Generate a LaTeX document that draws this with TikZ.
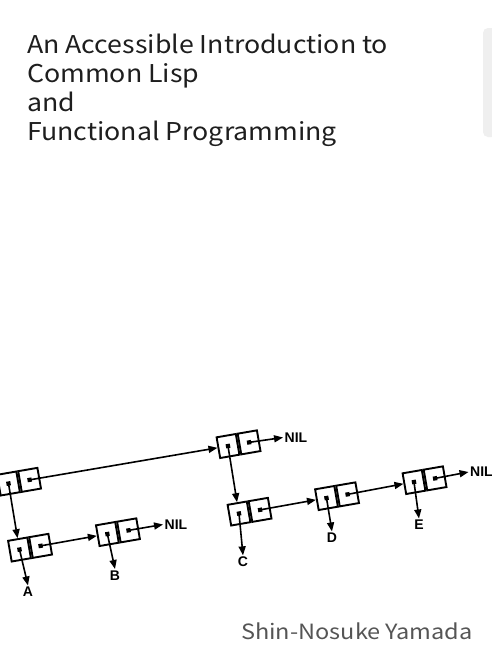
\documentclass[tikz,border=0pt]{standalone}
\usepackage{fontspec}
\setmainfont{Noto Sans CJK JP}
\newfontfamily\titlefont[FakeStretch=1.09]{Noto Sans CJK JP}
\newfontfamily\authorfont[FakeStretch=1.12]{Noto Sans CJK JP}
\newfontfamily\lblfont{Liberation Sans}
\usetikzlibrary{arrows.meta}
\definecolor{titlecol}{HTML}{1E1E1E}
\definecolor{authorcol}{HTML}{555555}
\definecolor{tabcol}{HTML}{EFEFEF}
\newcommand\conscell[2]{%
  \node[half] (car#1) at #2 {};
  \node[half, anchor=west] (cdr#1) at (car#1.east) {};
  \node[dotmark] at (car#1.center) {};
  \node[dotmark] at (cdr#1.center) {};
}
\begin{document}
\begin{tikzpicture}[x=1pt,y=-1pt,
  half/.style={draw, line width=1.9pt, minimum width=19.5pt, minimum height=21pt, inner sep=0pt, rotate=9.8},
  dotmark/.style={fill, minimum size=4.2pt, inner sep=0pt, outer sep=0pt, rotate=9.8},
  ptr/.style={line width=1.6pt, -{Triangle[length=9pt,width=7pt]}},
  lbl/.style={font=\lblfont\bfseries\fontsize{14}{16}\selectfont, inner sep=1.5pt},
  titleline/.style={anchor=base west, inner sep=0pt, text=titlecol, font=\titlefont\fontsize{24.5}{28}\selectfont},
  authorline/.style={anchor=base west, inner sep=0pt, text=authorcol, font=\authorfont\fontsize{21}{24}\selectfont}
]
\useasboundingbox (0,0) rectangle (491,657);
\fill[white] (0,0) rectangle (491,657);
\fill[tabcol, rounded corners=5pt] (483,28) rectangle (500,137);

\node[titleline] (t1) at (27,53.3) {An Accessible Introduction to};
\node[titleline] (t2) at (27,82.3) {Common Lisp};
\node[titleline] (t3) at (27,111.3) {and};
\node[titleline] (t4) at (27,140.3) {Functional Programming};
\node[authorline] (author) at (241,639) {Shin-Nosuke Yamada};

\conscell{root}{(8.5,483.5)}
\conscell{top}{(228,446)}
\conscell{A}{(19.5,549.5)}
\conscell{B}{(107.4,534)}
\conscell{C}{(239,513.5)}
\conscell{D}{(326.5,498)}
\conscell{E}{(414,482)}

\node[lbl] (labA) at (28,592) {A};
\node[lbl] (labB) at (115,575.5) {B};
\node[lbl] (labC) at (243,562) {C};
\node[lbl] (labD) at (332,538) {D};
\node[lbl] (labE) at (419,525) {E};
\node[lbl] (niltop) at (296,437.5) {NIL};
\node[lbl] (nilB) at (176,524.5) {NIL};
\node[lbl] (nilE) at (481.5,472) {NIL};

\draw[ptr] (cdrroot.center) -- (cartop.west);
\draw[ptr] (carroot.center) -- (carA.north);
\draw[ptr] (cdrA.center) -- (carB.west);
\draw[ptr] (cdrB.center) -- (nilB.west);
\draw[ptr] (carA.center) -- (labA.north);
\draw[ptr] (carB.center) -- (labB.north);
\draw[ptr] (cdrtop.center) -- (niltop.west);
\draw[ptr] (cartop.center) -- (carC.north);
\draw[ptr] (cdrC.center) -- (carD.west);
\draw[ptr] (cdrD.center) -- (carE.west);
\draw[ptr] (cdrE.center) -- (nilE.west);
\draw[ptr] (carC.center) -- (labC.north);
\draw[ptr] (carD.center) -- (labD.north);
\draw[ptr] (carE.center) -- (labE.north);
\end{tikzpicture}
\end{document}
